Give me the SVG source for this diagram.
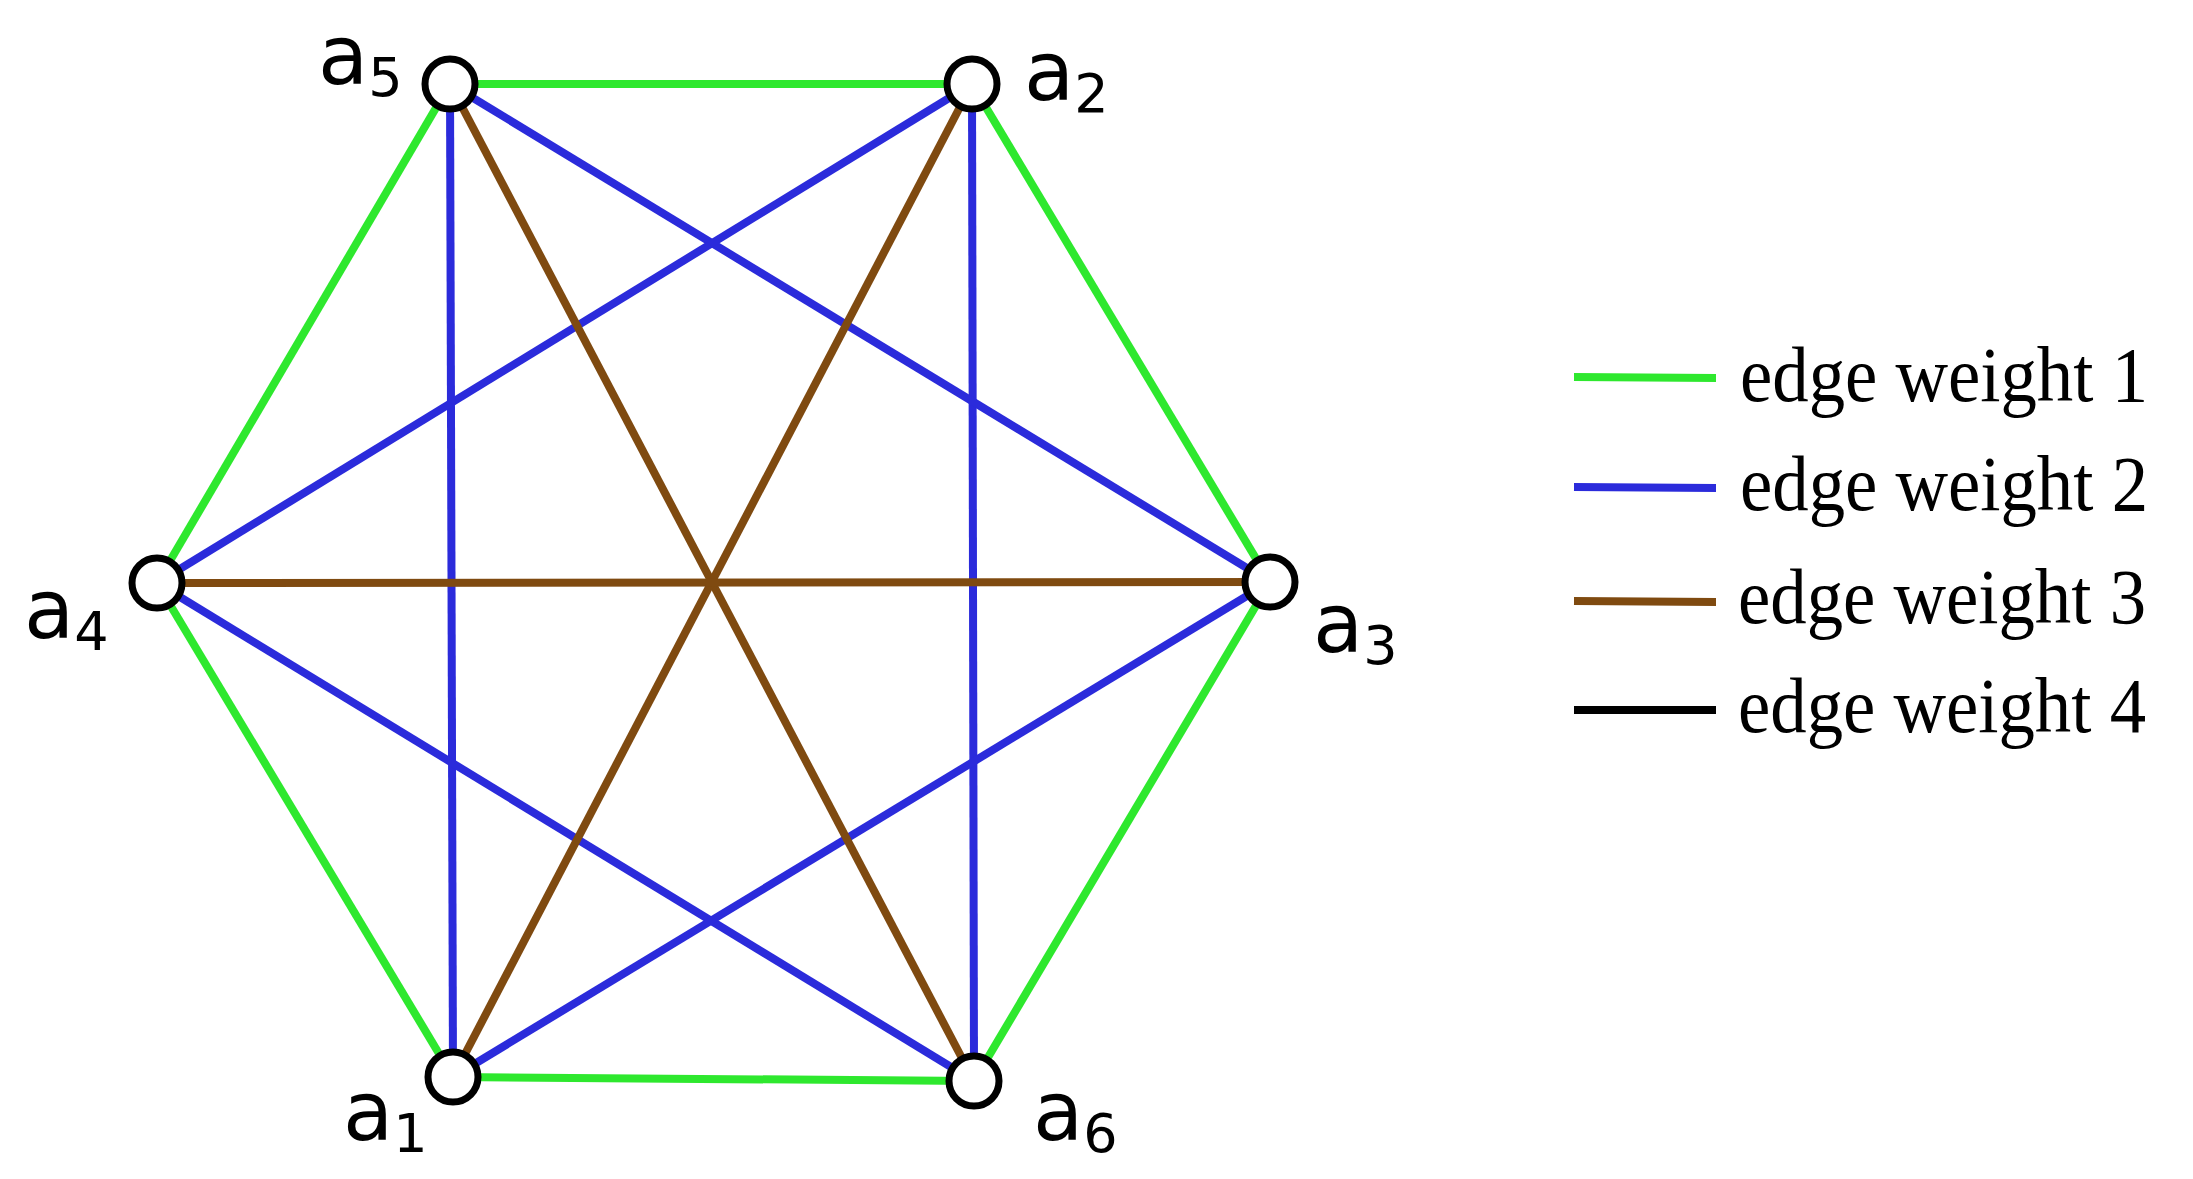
<svg xmlns="http://www.w3.org/2000/svg" width="2193" height="1179" viewBox="0 0 2193 1179">
<style>
.g{stroke:#2ee82e;stroke-width:8;fill:none}
.b{stroke:#2b2bdb;stroke-width:8;fill:none}
.r{stroke:#7f4a10;stroke-width:8;fill:none}
.k{stroke:#000;stroke-width:8;fill:none}
.n{fill:#fff;stroke:#000;stroke-width:7}
.l{font-family:"DejaVu Sans",sans-serif;font-size:82px;fill:#000}
.s{font-size:54px}
.t{font-family:"Liberation Serif",serif;font-size:78px;fill:#000}
</style>
<rect width="2193" height="1179" fill="#fff"/>
<g id="connectors">
<line class="g" x1="450" y1="84" x2="972" y2="84"/>
<line class="g" x1="972" y1="84" x2="1270" y2="582"/>
<line class="g" x1="1270" y1="582" x2="974" y2="1081"/>
<line class="g" x1="974" y1="1081" x2="453" y2="1077"/>
<line class="g" x1="453" y1="1077" x2="157" y2="583"/>
<line class="g" x1="157" y1="583" x2="450" y2="84"/>
<line class="b" x1="450" y1="84" x2="453" y2="1077"/>
<line class="b" x1="972" y1="84" x2="974" y2="1081"/>
<line class="b" x1="450" y1="84" x2="1270" y2="582"/>
<line class="b" x1="972" y1="84" x2="157" y2="583"/>
<line class="b" x1="157" y1="583" x2="974" y2="1081"/>
<line class="b" x1="1270" y1="582" x2="453" y2="1077"/>
<line class="r" x1="450" y1="84" x2="974" y2="1081"/>
<line class="r" x1="972" y1="84" x2="453" y2="1077"/>
<line class="r" x1="157" y1="583" x2="1270" y2="582"/>
</g>
<g id="a5"><circle class="n" cx="450" cy="84" r="25"/><text class="l" x="318" y="84">a<tspan class="s" dy="12">5</tspan></text></g>
<g id="a2"><circle class="n" cx="972" cy="84" r="25"/><text class="l" x="1024" y="100">a<tspan class="s" dy="12">2</tspan></text></g>
<g id="a3"><circle class="n" cx="1270" cy="582" r="25"/><text class="l" x="1313" y="652">a<tspan class="s" dy="12">3</tspan></text></g>
<g id="a4"><circle class="n" cx="157" cy="583" r="25"/><text class="l" x="24" y="638">a<tspan class="s" dy="12">4</tspan></text></g>
<g id="a1"><circle class="n" cx="453" cy="1077" r="25"/><text class="l" x="343" y="1140">a<tspan class="s" dy="12">1</tspan></text></g>
<g id="a6"><circle class="n" cx="974" cy="1081" r="25"/><text class="l" x="1033" y="1140">a<tspan class="s" dy="12">6</tspan></text></g>
<g id="legend">
<line class="g" x1="1574" y1="377" x2="1716" y2="378"/>
<line class="b" x1="1574" y1="487" x2="1716" y2="488"/>
<line class="r" x1="1574" y1="601" x2="1716" y2="602"/>
<line class="k" x1="1574" y1="710" x2="1716" y2="710"/>
<text class="t" x="1740" y="401" textLength="408" lengthAdjust="spacingAndGlyphs">edge weight 1</text>
<text class="t" x="1740" y="510" textLength="408" lengthAdjust="spacingAndGlyphs">edge weight 2</text>
<text class="t" x="1738" y="623" textLength="408" lengthAdjust="spacingAndGlyphs">edge weight 3</text>
<text class="t" x="1738" y="732" textLength="408" lengthAdjust="spacingAndGlyphs">edge weight 4</text>
</g>
</svg>
